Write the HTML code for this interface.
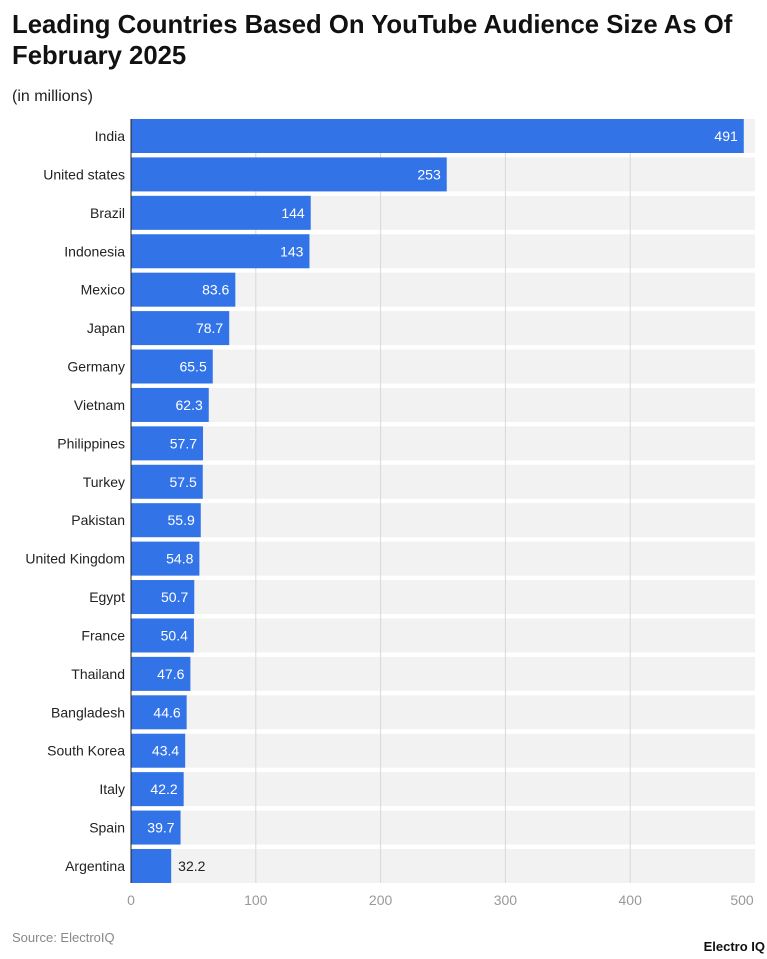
<!DOCTYPE html>
<html><head><meta charset="utf-8"><style>
body{margin:0;background:#fff;font-family:"Liberation Sans",sans-serif;}
#wrap{position:relative;width:767px;height:959px;overflow:hidden;}
h1{position:absolute;left:12px;top:10px;margin:0;font-size:25.7px;line-height:31px;font-weight:bold;color:#111;width:750px;letter-spacing:0px}
.sub{position:absolute;left:12px;top:88px;font-size:16px;color:#222}
.src{position:absolute;left:12px;top:930px;font-size:13px;color:#888}
.brand{position:absolute;right:2px;top:939px;font-size:13px;font-weight:bold;color:#111}
</style></head><body><div id="wrap">
<h1>Leading Countries Based On YouTube Audience Size As Of February 2025</h1>
<div class="sub">(in millions)</div>
<svg id="svg" width="767" height="959" style="position:absolute;left:0;top:0"></svg>
<div class="src">Source: ElectroIQ</div>
<div class="brand">Electro IQ</div>
</div>
<script>
const categories=["India","United states","Brazil","Indonesia","Mexico","Japan","Germany","Vietnam","Philippines","Turkey","Pakistan","United Kingdom","Egypt","France","Thailand","Bangladesh","South Korea","Italy","Spain","Argentina"];
const values=[491,253,144,143,83.6,78.7,65.5,62.3,57.7,57.5,55.9,54.8,50.7,50.4,47.6,44.6,43.4,42.2,39.7,32.2];
const labels=["491","253","144","143","83.6","78.7","65.5","62.3","57.7","57.5","55.9","54.8","50.7","50.4","47.6","44.6","43.4","42.2","39.7","32.2"];
const ticks=[0,100,200,300,400,500];
const svg=document.getElementById('svg');const NS='http://www.w3.org/2000/svg';
const x0=131,x1=755,xmax=500,top0=119,pitch=38.42,bh=34;
const X=v=>x0+(v/xmax)*(x1-x0);
const Y=i=>top0+i*pitch;
function mk(t,a){const e=document.createElementNS(NS,t);for(const k in a)e.setAttribute(k,a[k]);svg.appendChild(e);return e;}
categories.forEach((c,i)=>{const b=mk('rect',{x:x0,y:Y(i),width:x1-x0,height:bh,fill:'#f2f2f2'});

});
ticks.forEach(t=>{if(t>0&&t<500){const l=mk('line',{x1:X(t),x2:X(t),y1:top0,y2:Y(19)+bh,stroke:'#d8d8d8','stroke-width':1});

}
const tx=mk('text',{x:t===500?X(t)-13:X(t),y:905,'text-anchor':'middle','font-size':14,fill:'#999'});tx.textContent=t;

});
categories.forEach((c,i)=>{const y=Y(i);
const r=mk('rect',{x:x0,y:y,width:X(values[i])-x0,height:bh,fill:'#3273e8'});


const cl=mk('text',{x:125,y:y+bh/2+5,'text-anchor':'end','font-size':14,fill:'#222'});cl.textContent=c;


const w=X(values[i])-x0;const inside=w>45;
const vl=mk('text',{x:inside?X(values[i])-6:X(values[i])+7,y:y+bh/2+5,'text-anchor':inside?'end':'start','font-size':14,fill:inside?'#fff':'#222'});vl.textContent=labels[i];

});
const ax=mk('line',{x1:x0,x2:x0,y1:top0,y2:Y(19)+bh,stroke:'#222','stroke-width':1});


</script></body></html>
